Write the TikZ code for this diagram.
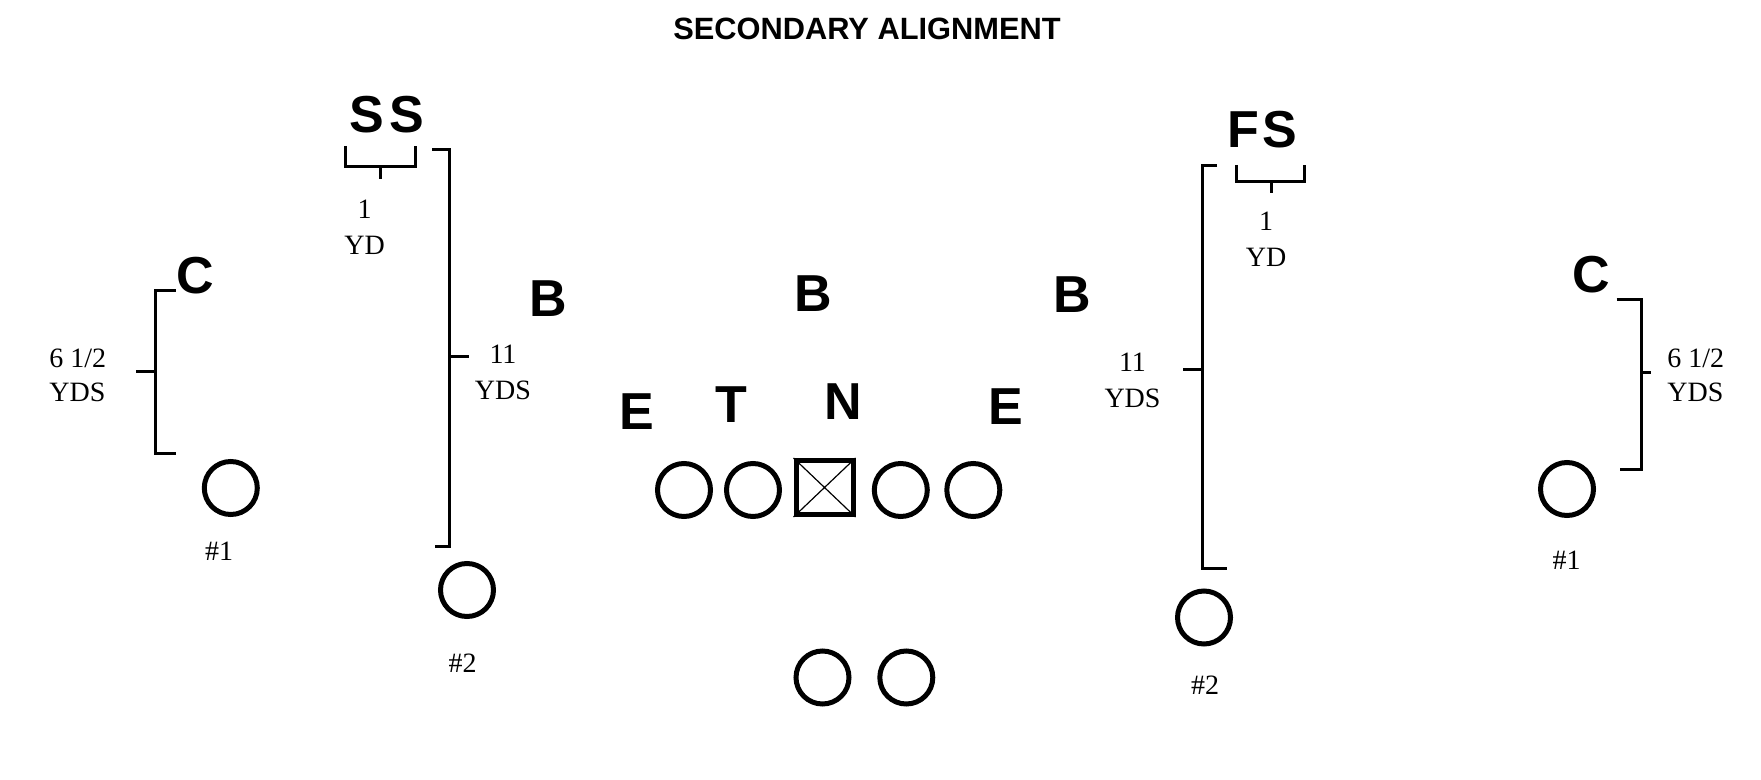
\documentclass[tikz,border=0pt]{standalone}
\usepackage{fontspec}
\setmainfont{Liberation Serif}
\newfontfamily\hv{Liberation Sans}
\begin{document}
\begin{tikzpicture}[x=0.5pt,y=-0.5pt,
  big/.style={font=\hv\bfseries\fontsize{26}{30}\selectfont, inner sep=0pt},
  ttl/.style={font=\hv\bfseries\fontsize{15.4}{18}\selectfont, inner sep=0pt},
  small/.style={font=\fontsize{14}{18}\selectfont, inner sep=0pt, align=center},
  smallL/.style={font=\fontsize{14}{17}\selectfont, inner sep=0pt, align=left},
  man/.style={circle, draw, line width=2.5pt, minimum size=26.5pt, inner sep=0pt},
  ctr/.style={draw, line width=2.5pt, minimum width=28.5pt, minimum height=27pt, inner sep=0pt},
  brk/.style={line width=1.5pt}]
\useasboundingbox (0,0) rectangle (1761,780);

% title
\node[ttl] (title) at (867,28.5) {SECONDARY ALIGNMENT};

% defensive letters
\node[big] (ss) at (386.7,115) {S\kern2.5ptS};
\node[big] (fs) at (1262.5,130) {F\kern1.5ptS};
\node[big] (cl) at (195,276) {C};
\node[big] (cr) at (1591.7,275) {C};
\node[big] (b1) at (548,299) {B};
\node[big] (b2) at (813,293.3) {B};
\node[big] (b3) at (1072.5,295) {B};
\node[big] (e1) at (636.5,411.7) {E};
\node[big] (t) at (731.7,405) {T};
\node[big] (n) at (843,401.7) {N};
\node[big] (e2) at (1006,406.5) {E};

% offense
\node[man] (wl) at (230.8,488) {};
\node[man] (sl) at (467,590) {};
\node[man] (o1) at (684,490) {};
\node[man] (o2) at (753,490) {};
\node[ctr] (c) at (824.5,487.5) {};
\draw[line width=0.6pt] (c.north west) -- (c.south east) (c.north east) -- (c.south west);
\node[man] (o4) at (900.8,490) {};
\node[man] (o5) at (973.3,490) {};
\node[man] (rb1) at (822.5,677.5) {};
\node[man] (rb2) at (906.3,677.5) {};
\node[man] (sr) at (1204,617.5) {};
\node[man] (wr) at (1567,489) {};

% receiver labels
\node[small] (l1) at (219,551.7) {\#1};
\node[small] (l2) at (462.5,663.3) {\#2};
\node[small] (r2) at (1205,685) {\#2};
\node[small] (r1) at (1566.7,560) {\#1};

% distance labels
\node[small] (ydl) at (364.5,227) {1\\YD};
\node[small] (ydr) at (1266,239) {1\\YD};
\node[smallL,anchor=west] (cdl) at (49,375.5) {6 1/2\\YDS};
\node[smallL,anchor=west] (cdr) at (1667,375.5) {6 1/2\\YDS};
\node[small] (sdl) at (503,372.5) {11\\YDS};
\node[small] (sdr) at (1132.5,380) {11\\YDS};

% brackets: SS
\coordinate (ssa) at (345,146); \coordinate (ssb) at (345,166.7);
\coordinate (ssc) at (415.7,166.7); \coordinate (ssd) at (415.7,146);
\coordinate (sst) at (380,166.7); \coordinate (ssu) at (380,179.3);
\draw[brk] (ssa) -- (ssb) -- (ssc) -- (ssd);
\draw[brk] (sst) -- (ssu);
\coordinate (sla) at (432,150); \coordinate (slb) at (449,150);
\coordinate (slc) at (449,546.7); \coordinate (sld) at (435,546.7);
\coordinate (slm) at (449,356.7); \coordinate (sln) at (469,356.7);
\draw[brk] (sla) -- (slb) -- (slc) -- (sld);
\draw[brk] (slm) -- (sln);

% left corner bracket
\coordinate (cla) at (175.7,290.7); \coordinate (clb) at (155,290.7);
\coordinate (clc) at (155,453.3); \coordinate (cld) at (175.7,453.3);
\coordinate (clm) at (155,372); \coordinate (cln) at (136,372);
\draw[brk] (cla) -- (clb) -- (clc) -- (cld);
\draw[brk] (clm) -- (cln);

% FS brackets
\coordinate (fsa) at (1236.7,165); \coordinate (fsb) at (1236.7,181.7);
\coordinate (fsc) at (1304,181.7); \coordinate (fsd) at (1304,165);
\coordinate (fst) at (1271.7,181.7); \coordinate (fsu) at (1271.7,192.7);
\draw[brk] (fsa) -- (fsb) -- (fsc) -- (fsd);
\draw[brk] (fst) -- (fsu);
\coordinate (fla) at (1217,165.7); \coordinate (flb) at (1202,165.7);
\coordinate (flc) at (1202,568.3); \coordinate (fld) at (1226.7,568.3);
\coordinate (flm) at (1202,370); \coordinate (fln) at (1183.3,370);
\draw[brk] (fla) -- (flb) -- (flc) -- (fld);
\draw[brk] (flm) -- (fln);

% right corner bracket
\coordinate (cra) at (1616.7,300); \coordinate (crb) at (1641,300);
\coordinate (crc) at (1641,469.3); \coordinate (crd) at (1620,469.3);
\coordinate (crm) at (1641,372.3); \coordinate (crn) at (1650.7,372.3);
\draw[brk] (cra) -- (crb) -- (crc) -- (crd);
\draw[brk] (crm) -- (crn);
\end{tikzpicture}
\end{document}
